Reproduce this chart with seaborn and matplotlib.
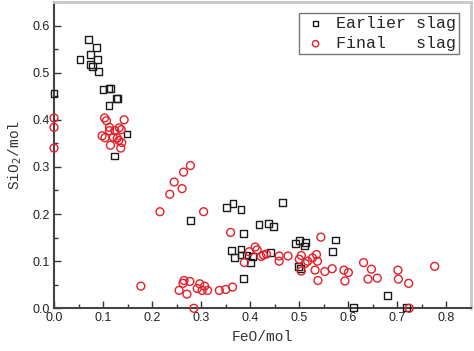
import numpy as np
import pandas as pd
import matplotlib
matplotlib.use("Agg")
import matplotlib.pyplot as plt
import seaborn as sns
from matplotlib.ticker import MultipleLocator

# ---- data ----
early_feo = [0.071, 0.086, 0.053, 0.075, 0.088, 0.075, 0.078, 0.090, 0.100, 0.112, 0.115,
             0.127, 0.129, 0.000, 0.112, 0.149, 0.123,
             0.278, 0.352, 0.365, 0.381, 0.465, 0.418, 0.438, 0.447, 0.386,
             0.361, 0.368, 0.381, 0.382, 0.392, 0.404, 0.401, 0.442, 0.386,
             0.492, 0.500, 0.513, 0.511, 0.573, 0.567, 0.498, 0.502,
             0.680, 0.610, 0.719]
early_sio2 = [0.571, 0.554, 0.528, 0.538, 0.528, 0.518, 0.513, 0.502, 0.464, 0.467, 0.466,
              0.446, 0.445, 0.455, 0.430, 0.370, 0.323,
              0.187, 0.214, 0.222, 0.209, 0.225, 0.177, 0.180, 0.173, 0.158,
              0.122, 0.107, 0.126, 0.113, 0.113, 0.110, 0.097, 0.118, 0.064,
              0.138, 0.144, 0.140, 0.132, 0.145, 0.120, 0.089, 0.085,
              0.028, 0.001, 0.001]

final_feo = [0.000, 0.000, 0.000,
             0.103, 0.107, 0.143, 0.113, 0.113, 0.133, 0.137, 0.124, 0.098, 0.104,
             0.121, 0.129, 0.132, 0.138, 0.115, 0.136,
             0.278, 0.264, 0.245, 0.261, 0.236, 0.216, 0.305, 0.360,
             0.177, 0.265, 0.277, 0.263, 0.255, 0.271, 0.297, 0.307, 0.292, 0.302,
             0.313, 0.337, 0.350, 0.364, 0.285,
             0.410, 0.414, 0.398, 0.427, 0.433, 0.422, 0.388, 0.459, 0.459, 0.477,
             0.544, 0.504, 0.500, 0.517, 0.512, 0.527, 0.535, 0.537, 0.504, 0.532,
             0.538, 0.552, 0.567, 0.591, 0.593, 0.600,
             0.631, 0.647, 0.640, 0.659, 0.701, 0.702, 0.723, 0.776, 0.724]
final_sio2 = [0.404, 0.384, 0.340,
              0.404, 0.398, 0.400, 0.384, 0.377, 0.383, 0.379, 0.377, 0.366, 0.362,
              0.363, 0.361, 0.356, 0.352, 0.346, 0.340,
              0.303, 0.289, 0.268, 0.254, 0.242, 0.205, 0.205, 0.161,
              0.047, 0.059, 0.057, 0.053, 0.038, 0.030, 0.052, 0.047, 0.042, 0.038,
              0.038, 0.038, 0.040, 0.045, 0.000,
              0.130, 0.124, 0.120, 0.113, 0.115, 0.110, 0.097, 0.111, 0.100, 0.111,
              0.151, 0.112, 0.104, 0.100, 0.095, 0.107, 0.114, 0.100, 0.079, 0.081,
              0.059, 0.078, 0.084, 0.081, 0.058, 0.076,
              0.097, 0.083, 0.062, 0.064, 0.081, 0.062, 0.053, 0.089, 0.000]

series_names = ["Earlier slag", "Final   slag"]
x_label = "FeO/mol"
y_label = "SiO$_2$/mol"
tick_values = [0.0, 0.1, 0.2, 0.3, 0.4, 0.5, 0.6, 0.7, 0.8]

df_early = pd.DataFrame({"FeO": early_feo, "SiO2": early_sio2})
df_final = pd.DataFrame({"FeO": final_feo, "SiO2": final_sio2})

sns.set_style("ticks")
plt.rcParams["font.family"] = ["Liberation Sans", "DejaVu Sans"]

fig = plt.figure(figsize=(4.74, 3.51), dpi=100)
ax = fig.add_axes([54/474, 1 - 308.3/351, (471 - 54)/474, (308.3 - 2)/351])

red = "#e3202a"
sns.scatterplot(data=df_early, x="FeO", y="SiO2", ax=ax, marker="s", s=24,
                facecolor="none", edgecolor="#1a1a1a", linewidth=1.0,
                label=series_names[0], clip_on=False, zorder=3)
sns.scatterplot(data=df_final, x="FeO", y="SiO2", ax=ax, marker="o", s=32,
                facecolor="none", edgecolor=red, linewidth=1.0,
                label=series_names[1], clip_on=False, zorder=3)

ax.set_xlim(0, 0.85)
ax.set_ylim(0, 0.65)
ax.xaxis.set_minor_locator(MultipleLocator(0.05))
ax.yaxis.set_minor_locator(MultipleLocator(0.05))
ax.set_xticks(tick_values)
ax.set_xticklabels([f"{v:.1f}" for v in tick_values])
yt = tick_values[:7]
ax.set_yticks(yt)
ax.set_yticklabels([f"{v:.1f}" for v in yt])

ax.tick_params(which="major", direction="in", length=5, width=1.0, color="#333333",
               labelsize=9, labelcolor="#222222", pad=3)
ax.tick_params(which="minor", direction="in", length=3, width=1.0, color="#333333")
ax.tick_params(top=False, right=False, which="both")

for side in ["left", "bottom"]:
    ax.spines[side].set_color("#444444")
    ax.spines[side].set_linewidth(1.5)
for side in ["top", "right"]:
    ax.spines[side].set_color("#c8c8c8")
    ax.spines[side].set_linewidth(2.0)

mono = ["Liberation Mono", "DejaVu Sans Mono"]
ax.set_xlabel(x_label, family=mono, fontsize=10.5, color="#333333", labelpad=4)
ax.set_ylabel(y_label, family=mono, fontsize=10.5, color="#333333", labelpad=6)

leg = ax.legend(loc="upper right", bbox_to_anchor=(0.971, 0.965), borderaxespad=0,
                frameon=True, fancybox=False, edgecolor="#777777", framealpha=1,
                prop={"family": mono, "size": 12}, handletextpad=0.4,
                borderpad=0.2, labelspacing=0.3, handlelength=1.6,
                markerscale=0.8)
leg.get_frame().set_linewidth(1.0)

fig.savefig("out.png", dpi=100)
